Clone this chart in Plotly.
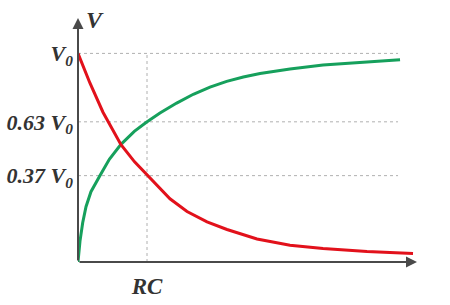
import plotly.graph_objects as go

# Charging curve (green): t in units of RC, V in units of V0
charge_t = [0, 0.010, 0.029, 0.068, 0.116, 0.188, 0.261, 0.319, 0.454, 0.623, 0.816, 0.986,
            1.188, 1.430, 1.671, 1.913, 2.155, 2.396, 2.638, 2.880, 3.072, 3.551, 4.130, 4.667]
charge_v = [0, 0.045, 0.100, 0.188, 0.265, 0.337, 0.383, 0.415, 0.492, 0.564, 0.626, 0.669,
            0.714, 0.762, 0.804, 0.838, 0.866, 0.887, 0.904, 0.917, 0.925, 0.944, 0.958, 0.969]

# Discharging curve (red)
discharge_t = [0, 0.174, 0.362, 0.623, 0.820, 1.010, 1.333, 1.580, 1.870, 2.159, 2.594, 3.072, 3.551, 4.188, 4.855]
discharge_v = [1.0, 0.857, 0.718, 0.562, 0.480, 0.414, 0.303, 0.242, 0.192, 0.156, 0.110, 0.080, 0.065, 0.050, 0.041]

# Tick labels
y_tick_vals = [0.414, 0.672, 1.0]
y_tick_text = ["<b><i>0.37 V<sub>0</sub></i></b>", "<b><i>0.63 V<sub>0</sub></i></b>", "<b><i>V<sub>0</sub></i></b>"]
x_tick_vals = [1.0]
x_tick_text = ["<b><i>RC</i></b>"]

grid_end = 4.638
x_axis_end = 4.913
y_axis_end = 1.17

RED = "#e2111b"
GREEN = "#16a05c"
AXIS = "#4a4a4a"
GRID = "#b0b0b0"
FONT = dict(family="Liberation Serif", size=22, color="#333333")

fig = go.Figure()

# dotted guide lines
for yv in y_tick_vals:
    fig.add_trace(go.Scatter(x=[0, grid_end], y=[yv, yv], mode="lines",
                             line=dict(color=GRID, width=1, dash="dot"), hoverinfo="skip", showlegend=False))
fig.add_trace(go.Scatter(x=[x_tick_vals[0], x_tick_vals[0]], y=[0, y_tick_vals[-1]], mode="lines",
                         line=dict(color=GRID, width=1, dash="dot"), hoverinfo="skip", showlegend=False))

fig.add_trace(go.Scatter(x=charge_t, y=charge_v, mode="lines",
                         line=dict(color=GREEN, width=3), showlegend=False))
fig.add_trace(go.Scatter(x=discharge_t, y=discharge_v, mode="lines",
                         line=dict(color=RED, width=3), showlegend=False))

# axes with arrows
fig.add_annotation(x=x_axis_end, y=0, ax=0, ay=0, xref="x", yref="y", axref="x", ayref="y",
                   showarrow=True, arrowhead=2, arrowsize=1.1, arrowwidth=2, arrowcolor=AXIS, text="")
fig.add_annotation(x=0, y=y_axis_end, ax=0, ay=0, xref="x", yref="y", axref="x", ayref="y",
                   showarrow=True, arrowhead=2, arrowsize=1.1, arrowwidth=2, arrowcolor=AXIS, text="")

fig.add_annotation(x=0.246, y=1.16, xref="x", yref="y", text="<b><i>V</i></b>", showarrow=False,
                   font=dict(FONT, size=24), xanchor="center", yanchor="middle")
fig.add_annotation(x=4.83, y=-0.08, xref="x", yref="y", text="<b><i>t</i></b>", showarrow=False,
                   font=dict(FONT, size=24), xanchor="center", yanchor="middle")

fig.update_layout(
    width=450, height=305,
    margin=dict(l=78, r=0, t=0, b=42.5),
    paper_bgcolor="white", plot_bgcolor="white",
    xaxis=dict(range=[0, 5.391], showgrid=False, zeroline=False, showline=False,
               tickvals=x_tick_vals, ticktext=x_tick_text, ticks="", tickfont=dict(FONT, size=23),
               ticklabelstandoff=8),
    yaxis=dict(range=[0, 1.256], showgrid=False, zeroline=False, showline=False,
               tickvals=y_tick_vals, ticktext=y_tick_text, ticks="", tickfont=FONT,
               ticklabelstandoff=4),
)

fig.write_html("out.html")
